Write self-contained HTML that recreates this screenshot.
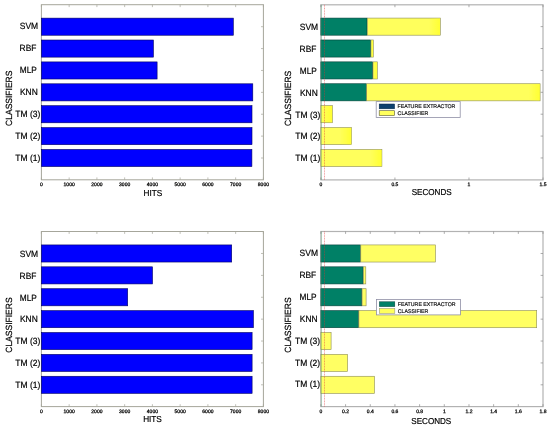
<!DOCTYPE html>
<html lang="en"><head><meta charset="utf-8"><title>Classifier hits and timing charts</title>
<style>
html,body{margin:0;padding:0;background:#fff;}
body{width:550px;height:428px;overflow:hidden;}
svg{display:block;font-family:"Liberation Sans", Arial, sans-serif;text-rendering:geometricPrecision;}
</style></head>
<body>
<svg width="550" height="428" viewBox="0 0 550 428">
<defs><filter id="soft" x="0" y="0" width="550" height="428" filterUnits="userSpaceOnUse"><feGaussianBlur stdDeviation="0.32"/></filter><linearGradient id="yg" x1="0" y1="0" x2="1" y2="0"><stop offset="0" stop-color="#ffff20" stop-opacity="0"/><stop offset="1" stop-color="#ffff20" stop-opacity="0.7"/></linearGradient></defs>
<rect width="550" height="428" fill="#ffffff"/>
<g filter="url(#soft)">
<rect x="41.40" y="4.70" width="222.00" height="175.10" fill="none" stroke="#a6a69b" stroke-width="1.0"/>
<path d="M41.40 179.80v-2.4M41.40 4.70v2.4" stroke="#a6a69b" stroke-width="0.7" fill="none"/>
<path d="M69.15 179.80v-2.4M69.15 4.70v2.4" stroke="#a6a69b" stroke-width="0.7" fill="none"/>
<path d="M96.90 179.80v-2.4M96.90 4.70v2.4" stroke="#a6a69b" stroke-width="0.7" fill="none"/>
<path d="M124.65 179.80v-2.4M124.65 4.70v2.4" stroke="#a6a69b" stroke-width="0.7" fill="none"/>
<path d="M152.40 179.80v-2.4M152.40 4.70v2.4" stroke="#a6a69b" stroke-width="0.7" fill="none"/>
<path d="M180.15 179.80v-2.4M180.15 4.70v2.4" stroke="#a6a69b" stroke-width="0.7" fill="none"/>
<path d="M207.90 179.80v-2.4M207.90 4.70v2.4" stroke="#a6a69b" stroke-width="0.7" fill="none"/>
<path d="M235.65 179.80v-2.4M235.65 4.70v2.4" stroke="#a6a69b" stroke-width="0.7" fill="none"/>
<path d="M263.40 179.80v-2.4M263.40 4.70v2.4" stroke="#a6a69b" stroke-width="0.7" fill="none"/>
<path d="M41.40 26.69h2.4M263.40 26.69h-2.4" stroke="#a6a69b" stroke-width="0.7" fill="none"/>
<path d="M41.40 48.58h2.4M263.40 48.58h-2.4" stroke="#a6a69b" stroke-width="0.7" fill="none"/>
<path d="M41.40 70.46h2.4M263.40 70.46h-2.4" stroke="#a6a69b" stroke-width="0.7" fill="none"/>
<path d="M41.40 92.35h2.4M263.40 92.35h-2.4" stroke="#a6a69b" stroke-width="0.7" fill="none"/>
<path d="M41.40 114.24h2.4M263.40 114.24h-2.4" stroke="#a6a69b" stroke-width="0.7" fill="none"/>
<path d="M41.40 136.12h2.4M263.40 136.12h-2.4" stroke="#a6a69b" stroke-width="0.7" fill="none"/>
<path d="M41.40 158.01h2.4M263.40 158.01h-2.4" stroke="#a6a69b" stroke-width="0.7" fill="none"/>
<text x="41.40" y="186.20" font-size="5.0" text-anchor="middle" fill="#000" stroke="#000" stroke-width="0.25">0</text>
<text x="69.15" y="186.20" font-size="5.0" text-anchor="middle" fill="#000" stroke="#000" stroke-width="0.25">1000</text>
<text x="96.90" y="186.20" font-size="5.0" text-anchor="middle" fill="#000" stroke="#000" stroke-width="0.25">2000</text>
<text x="124.65" y="186.20" font-size="5.0" text-anchor="middle" fill="#000" stroke="#000" stroke-width="0.25">3000</text>
<text x="152.40" y="186.20" font-size="5.0" text-anchor="middle" fill="#000" stroke="#000" stroke-width="0.25">4000</text>
<text x="180.15" y="186.20" font-size="5.0" text-anchor="middle" fill="#000" stroke="#000" stroke-width="0.25">5000</text>
<text x="207.90" y="186.20" font-size="5.0" text-anchor="middle" fill="#000" stroke="#000" stroke-width="0.25">6000</text>
<text x="235.65" y="186.20" font-size="5.0" text-anchor="middle" fill="#000" stroke="#000" stroke-width="0.25">7000</text>
<text x="263.40" y="186.20" font-size="5.0" text-anchor="middle" fill="#000" stroke="#000" stroke-width="0.25">8000</text>
<text x="152.90" y="196.40" font-size="8.6" text-anchor="middle" fill="#000" textLength="18.70" lengthAdjust="spacingAndGlyphs" stroke="#000" stroke-width="0.19">HITS</text>
<text x="11.60" y="98.25" font-size="9.0" text-anchor="middle" fill="#000" textLength="55.30" lengthAdjust="spacingAndGlyphs" transform="rotate(-90 11.60 98.25)" stroke="#000" stroke-width="0.20">CLASSIFIERS</text>
<rect x="41.40" y="18.13" width="191.90" height="17.11" fill="#0000ff" stroke="#000060" stroke-width="0.6"/>
<rect x="41.40" y="40.02" width="112.00" height="17.11" fill="#0000ff" stroke="#000060" stroke-width="0.6"/>
<rect x="41.40" y="61.91" width="115.70" height="17.11" fill="#0000ff" stroke="#000060" stroke-width="0.6"/>
<rect x="41.40" y="83.80" width="211.40" height="17.11" fill="#0000ff" stroke="#000060" stroke-width="0.6"/>
<rect x="41.40" y="105.68" width="210.60" height="17.11" fill="#0000ff" stroke="#000060" stroke-width="0.6"/>
<rect x="41.40" y="127.57" width="210.60" height="17.11" fill="#0000ff" stroke="#000060" stroke-width="0.6"/>
<rect x="41.40" y="149.46" width="210.50" height="17.11" fill="#0000ff" stroke="#000060" stroke-width="0.6"/>
<text x="19.80" y="29.29" font-size="9.0" text-anchor="start" fill="#000" textLength="18.40" lengthAdjust="spacingAndGlyphs" stroke="#000" stroke-width="0.20">SVM</text>
<text x="19.60" y="51.18" font-size="9.0" text-anchor="start" fill="#000" textLength="16.80" lengthAdjust="spacingAndGlyphs" stroke="#000" stroke-width="0.20">RBF</text>
<text x="19.80" y="73.06" font-size="9.0" text-anchor="start" fill="#000" textLength="17.00" lengthAdjust="spacingAndGlyphs" stroke="#000" stroke-width="0.20">MLP</text>
<text x="20.00" y="94.95" font-size="9.0" text-anchor="start" fill="#000" textLength="17.80" lengthAdjust="spacingAndGlyphs" stroke="#000" stroke-width="0.20">KNN</text>
<text x="15.30" y="116.84" font-size="9.0" text-anchor="start" fill="#000" textLength="25.00" lengthAdjust="spacingAndGlyphs" stroke="#000" stroke-width="0.20">TM (3)</text>
<text x="15.30" y="138.72" font-size="9.0" text-anchor="start" fill="#000" textLength="25.00" lengthAdjust="spacingAndGlyphs" stroke="#000" stroke-width="0.20">TM (2)</text>
<text x="15.30" y="160.61" font-size="9.0" text-anchor="start" fill="#000" textLength="25.00" lengthAdjust="spacingAndGlyphs" stroke="#000" stroke-width="0.20">TM (1)</text>
<rect x="320.90" y="4.80" width="222.10" height="175.10" fill="none" stroke="#b2b2b2" stroke-width="1.2"/>
<path d="M320.90 179.90v-2.4M320.90 4.80v2.4" stroke="#8a8a8a" stroke-width="0.7" fill="none"/>
<path d="M394.93 179.90v-2.4M394.93 4.80v2.4" stroke="#8a8a8a" stroke-width="0.7" fill="none"/>
<path d="M468.97 179.90v-2.4M468.97 4.80v2.4" stroke="#8a8a8a" stroke-width="0.7" fill="none"/>
<path d="M543.00 179.90v-2.4M543.00 4.80v2.4" stroke="#8a8a8a" stroke-width="0.7" fill="none"/>
<path d="M320.90 26.64h2.4M543.00 26.64h-2.4" stroke="#8a8a8a" stroke-width="0.7" fill="none"/>
<path d="M320.90 48.52h2.4M543.00 48.52h-2.4" stroke="#8a8a8a" stroke-width="0.7" fill="none"/>
<path d="M320.90 70.41h2.4M543.00 70.41h-2.4" stroke="#8a8a8a" stroke-width="0.7" fill="none"/>
<path d="M320.90 92.30h2.4M543.00 92.30h-2.4" stroke="#8a8a8a" stroke-width="0.7" fill="none"/>
<path d="M320.90 114.19h2.4M543.00 114.19h-2.4" stroke="#8a8a8a" stroke-width="0.7" fill="none"/>
<path d="M320.90 136.07h2.4M543.00 136.07h-2.4" stroke="#8a8a8a" stroke-width="0.7" fill="none"/>
<path d="M320.90 157.96h2.4M543.00 157.96h-2.4" stroke="#8a8a8a" stroke-width="0.7" fill="none"/>
<text x="320.90" y="186.30" font-size="5.0" text-anchor="middle" fill="#000" stroke="#000" stroke-width="0.25">0</text>
<text x="394.93" y="186.30" font-size="5.0" text-anchor="middle" fill="#000" stroke="#000" stroke-width="0.25">0.5</text>
<text x="468.97" y="186.30" font-size="5.0" text-anchor="middle" fill="#000" stroke="#000" stroke-width="0.25">1</text>
<text x="543.00" y="186.30" font-size="5.0" text-anchor="middle" fill="#000" stroke="#000" stroke-width="0.25">1.5</text>
<text x="431.65" y="195.10" font-size="8.6" text-anchor="middle" fill="#000" textLength="40.00" lengthAdjust="spacingAndGlyphs" stroke="#000" stroke-width="0.19">SECONDS</text>
<text x="291.00" y="98.35" font-size="9.0" text-anchor="middle" fill="#000" textLength="55.30" lengthAdjust="spacingAndGlyphs" transform="rotate(-90 291.00 98.35)" stroke="#000" stroke-width="0.20">CLASSIFIERS</text>
<rect x="320.90" y="18.08" width="46.10" height="17.11" fill="#008066" stroke="#00403a" stroke-width="0.6"/>
<rect x="367.30" y="18.08" width="73.00" height="17.11" fill="#ffff5c" stroke="#8c8c55" stroke-width="0.6"/>
<rect x="429.00" y="18.48" width="11.00" height="16.31" fill="url(#yg)"/>
<rect x="320.90" y="39.97" width="49.80" height="17.11" fill="#008066" stroke="#00403a" stroke-width="0.6"/>
<rect x="371.00" y="39.97" width="2.30" height="17.11" fill="#ffff5c" stroke="#8c8c55" stroke-width="0.6"/>
<rect x="371.00" y="40.37" width="2.00" height="16.31" fill="url(#yg)"/>
<rect x="320.90" y="61.86" width="51.80" height="17.11" fill="#008066" stroke="#00403a" stroke-width="0.6"/>
<rect x="373.00" y="61.86" width="4.30" height="17.11" fill="#ffff5c" stroke="#8c8c55" stroke-width="0.6"/>
<rect x="373.00" y="62.26" width="4.00" height="16.31" fill="url(#yg)"/>
<rect x="320.90" y="83.74" width="45.50" height="17.11" fill="#008066" stroke="#00403a" stroke-width="0.6"/>
<rect x="366.70" y="83.74" width="173.40" height="17.11" fill="#ffff5c" stroke="#8c8c55" stroke-width="0.6"/>
<rect x="528.80" y="84.14" width="11.00" height="16.31" fill="url(#yg)"/>
<rect x="320.90" y="105.63" width="11.50" height="17.11" fill="#ffff5c" stroke="#8c8c55" stroke-width="0.6"/>
<rect x="321.10" y="106.03" width="11.00" height="16.31" fill="url(#yg)"/>
<rect x="320.90" y="127.52" width="30.60" height="17.11" fill="#ffff5c" stroke="#8c8c55" stroke-width="0.6"/>
<rect x="340.20" y="127.92" width="11.00" height="16.31" fill="url(#yg)"/>
<rect x="320.90" y="149.41" width="61.00" height="17.11" fill="#ffff5c" stroke="#8c8c55" stroke-width="0.6"/>
<rect x="370.60" y="149.81" width="11.00" height="16.31" fill="url(#yg)"/>
<path d="M321.30 4.80V179.90" stroke="#3fa06a" stroke-width="0.6" opacity="0.6"/>
<path d="M324.50 4.80V179.90" stroke="#e03030" stroke-width="0.9" stroke-dasharray="1 0.6" opacity="0.5"/>
<rect x="376.20" y="101.60" width="84.00" height="15.80" fill="#fff" stroke="#8f8fa6" stroke-width="0.8"/>
<rect x="379.20" y="104.00" width="15.4" height="4.8" fill="#0c3f6e" stroke="#0a2848" stroke-width="0.5"/>
<rect x="379.20" y="110.70" width="15.4" height="4.9" fill="#ffff5c" stroke="#55553a" stroke-width="0.6"/>
<text x="397.60" y="108.20" font-size="5.3" text-anchor="start" fill="#111" textLength="57.80" lengthAdjust="spacingAndGlyphs" stroke="#111" stroke-width="0.16">FEATURE EXTRACTOR</text>
<text x="397.60" y="114.90" font-size="5.3" text-anchor="start" fill="#111" textLength="30.60" lengthAdjust="spacingAndGlyphs" stroke="#111" stroke-width="0.16">CLASSIFIER</text>
<text x="299.80" y="30.04" font-size="9.0" text-anchor="start" fill="#000" textLength="18.40" lengthAdjust="spacingAndGlyphs" stroke="#000" stroke-width="0.20">SVM</text>
<text x="299.60" y="51.92" font-size="9.0" text-anchor="start" fill="#000" textLength="16.80" lengthAdjust="spacingAndGlyphs" stroke="#000" stroke-width="0.20">RBF</text>
<text x="299.80" y="73.81" font-size="9.0" text-anchor="start" fill="#000" textLength="17.00" lengthAdjust="spacingAndGlyphs" stroke="#000" stroke-width="0.20">MLP</text>
<text x="300.00" y="95.70" font-size="9.0" text-anchor="start" fill="#000" textLength="17.80" lengthAdjust="spacingAndGlyphs" stroke="#000" stroke-width="0.20">KNN</text>
<text x="295.30" y="117.59" font-size="9.0" text-anchor="start" fill="#000" textLength="25.00" lengthAdjust="spacingAndGlyphs" stroke="#000" stroke-width="0.20">TM (3)</text>
<text x="295.30" y="139.47" font-size="9.0" text-anchor="start" fill="#000" textLength="25.00" lengthAdjust="spacingAndGlyphs" stroke="#000" stroke-width="0.20">TM (2)</text>
<text x="295.30" y="161.36" font-size="9.0" text-anchor="start" fill="#000" textLength="25.00" lengthAdjust="spacingAndGlyphs" stroke="#000" stroke-width="0.20">TM (1)</text>
<rect x="41.40" y="231.50" width="222.00" height="175.10" fill="none" stroke="#a6a69b" stroke-width="1.0"/>
<path d="M41.40 406.60v-2.4M41.40 231.50v2.4" stroke="#a6a69b" stroke-width="0.7" fill="none"/>
<path d="M69.15 406.60v-2.4M69.15 231.50v2.4" stroke="#a6a69b" stroke-width="0.7" fill="none"/>
<path d="M96.90 406.60v-2.4M96.90 231.50v2.4" stroke="#a6a69b" stroke-width="0.7" fill="none"/>
<path d="M124.65 406.60v-2.4M124.65 231.50v2.4" stroke="#a6a69b" stroke-width="0.7" fill="none"/>
<path d="M152.40 406.60v-2.4M152.40 231.50v2.4" stroke="#a6a69b" stroke-width="0.7" fill="none"/>
<path d="M180.15 406.60v-2.4M180.15 231.50v2.4" stroke="#a6a69b" stroke-width="0.7" fill="none"/>
<path d="M207.90 406.60v-2.4M207.90 231.50v2.4" stroke="#a6a69b" stroke-width="0.7" fill="none"/>
<path d="M235.65 406.60v-2.4M235.65 231.50v2.4" stroke="#a6a69b" stroke-width="0.7" fill="none"/>
<path d="M263.40 406.60v-2.4M263.40 231.50v2.4" stroke="#a6a69b" stroke-width="0.7" fill="none"/>
<path d="M41.40 253.49h2.4M263.40 253.49h-2.4" stroke="#a6a69b" stroke-width="0.7" fill="none"/>
<path d="M41.40 275.38h2.4M263.40 275.38h-2.4" stroke="#a6a69b" stroke-width="0.7" fill="none"/>
<path d="M41.40 297.26h2.4M263.40 297.26h-2.4" stroke="#a6a69b" stroke-width="0.7" fill="none"/>
<path d="M41.40 319.15h2.4M263.40 319.15h-2.4" stroke="#a6a69b" stroke-width="0.7" fill="none"/>
<path d="M41.40 341.04h2.4M263.40 341.04h-2.4" stroke="#a6a69b" stroke-width="0.7" fill="none"/>
<path d="M41.40 362.93h2.4M263.40 362.93h-2.4" stroke="#a6a69b" stroke-width="0.7" fill="none"/>
<path d="M41.40 384.81h2.4M263.40 384.81h-2.4" stroke="#a6a69b" stroke-width="0.7" fill="none"/>
<text x="41.40" y="413.00" font-size="5.0" text-anchor="middle" fill="#000" stroke="#000" stroke-width="0.25">0</text>
<text x="69.15" y="413.00" font-size="5.0" text-anchor="middle" fill="#000" stroke="#000" stroke-width="0.25">1000</text>
<text x="96.90" y="413.00" font-size="5.0" text-anchor="middle" fill="#000" stroke="#000" stroke-width="0.25">2000</text>
<text x="124.65" y="413.00" font-size="5.0" text-anchor="middle" fill="#000" stroke="#000" stroke-width="0.25">3000</text>
<text x="152.40" y="413.00" font-size="5.0" text-anchor="middle" fill="#000" stroke="#000" stroke-width="0.25">4000</text>
<text x="180.15" y="413.00" font-size="5.0" text-anchor="middle" fill="#000" stroke="#000" stroke-width="0.25">5000</text>
<text x="207.90" y="413.00" font-size="5.0" text-anchor="middle" fill="#000" stroke="#000" stroke-width="0.25">6000</text>
<text x="235.65" y="413.00" font-size="5.0" text-anchor="middle" fill="#000" stroke="#000" stroke-width="0.25">7000</text>
<text x="263.40" y="413.00" font-size="5.0" text-anchor="middle" fill="#000" stroke="#000" stroke-width="0.25">8000</text>
<text x="152.50" y="421.90" font-size="8.6" text-anchor="middle" fill="#000" textLength="18.70" lengthAdjust="spacingAndGlyphs" stroke="#000" stroke-width="0.19">HITS</text>
<text x="11.60" y="325.05" font-size="9.0" text-anchor="middle" fill="#000" textLength="55.30" lengthAdjust="spacingAndGlyphs" transform="rotate(-90 11.60 325.05)" stroke="#000" stroke-width="0.20">CLASSIFIERS</text>
<rect x="41.40" y="244.93" width="190.30" height="17.11" fill="#0000ff" stroke="#000060" stroke-width="0.6"/>
<rect x="41.40" y="266.82" width="111.10" height="17.11" fill="#0000ff" stroke="#000060" stroke-width="0.6"/>
<rect x="41.40" y="288.71" width="86.30" height="17.11" fill="#0000ff" stroke="#000060" stroke-width="0.6"/>
<rect x="41.40" y="310.60" width="212.00" height="17.11" fill="#0000ff" stroke="#000060" stroke-width="0.6"/>
<rect x="41.40" y="332.48" width="210.70" height="17.11" fill="#0000ff" stroke="#000060" stroke-width="0.6"/>
<rect x="41.40" y="354.37" width="210.70" height="17.11" fill="#0000ff" stroke="#000060" stroke-width="0.6"/>
<rect x="41.40" y="376.26" width="210.70" height="17.11" fill="#0000ff" stroke="#000060" stroke-width="0.6"/>
<text x="19.80" y="256.79" font-size="9.0" text-anchor="start" fill="#000" textLength="18.40" lengthAdjust="spacingAndGlyphs" stroke="#000" stroke-width="0.20">SVM</text>
<text x="19.60" y="278.68" font-size="9.0" text-anchor="start" fill="#000" textLength="16.80" lengthAdjust="spacingAndGlyphs" stroke="#000" stroke-width="0.20">RBF</text>
<text x="19.80" y="300.56" font-size="9.0" text-anchor="start" fill="#000" textLength="17.00" lengthAdjust="spacingAndGlyphs" stroke="#000" stroke-width="0.20">MLP</text>
<text x="20.00" y="322.45" font-size="9.0" text-anchor="start" fill="#000" textLength="17.80" lengthAdjust="spacingAndGlyphs" stroke="#000" stroke-width="0.20">KNN</text>
<text x="15.30" y="344.34" font-size="9.0" text-anchor="start" fill="#000" textLength="25.00" lengthAdjust="spacingAndGlyphs" stroke="#000" stroke-width="0.20">TM (3)</text>
<text x="15.30" y="366.23" font-size="9.0" text-anchor="start" fill="#000" textLength="25.00" lengthAdjust="spacingAndGlyphs" stroke="#000" stroke-width="0.20">TM (2)</text>
<text x="15.30" y="388.11" font-size="9.0" text-anchor="start" fill="#000" textLength="25.00" lengthAdjust="spacingAndGlyphs" stroke="#000" stroke-width="0.20">TM (1)</text>
<rect x="320.90" y="231.50" width="222.10" height="175.10" fill="none" stroke="#b2b2b2" stroke-width="1.2"/>
<path d="M320.90 406.60v-2.4M320.90 231.50v2.4" stroke="#8a8a8a" stroke-width="0.7" fill="none"/>
<path d="M345.58 406.60v-2.4M345.58 231.50v2.4" stroke="#8a8a8a" stroke-width="0.7" fill="none"/>
<path d="M370.26 406.60v-2.4M370.26 231.50v2.4" stroke="#8a8a8a" stroke-width="0.7" fill="none"/>
<path d="M394.93 406.60v-2.4M394.93 231.50v2.4" stroke="#8a8a8a" stroke-width="0.7" fill="none"/>
<path d="M419.61 406.60v-2.4M419.61 231.50v2.4" stroke="#8a8a8a" stroke-width="0.7" fill="none"/>
<path d="M444.29 406.60v-2.4M444.29 231.50v2.4" stroke="#8a8a8a" stroke-width="0.7" fill="none"/>
<path d="M468.97 406.60v-2.4M468.97 231.50v2.4" stroke="#8a8a8a" stroke-width="0.7" fill="none"/>
<path d="M493.64 406.60v-2.4M493.64 231.50v2.4" stroke="#8a8a8a" stroke-width="0.7" fill="none"/>
<path d="M518.32 406.60v-2.4M518.32 231.50v2.4" stroke="#8a8a8a" stroke-width="0.7" fill="none"/>
<path d="M543.00 406.60v-2.4M543.00 231.50v2.4" stroke="#8a8a8a" stroke-width="0.7" fill="none"/>
<path d="M320.90 253.49h2.4M543.00 253.49h-2.4" stroke="#8a8a8a" stroke-width="0.7" fill="none"/>
<path d="M320.90 275.38h2.4M543.00 275.38h-2.4" stroke="#8a8a8a" stroke-width="0.7" fill="none"/>
<path d="M320.90 297.26h2.4M543.00 297.26h-2.4" stroke="#8a8a8a" stroke-width="0.7" fill="none"/>
<path d="M320.90 319.15h2.4M543.00 319.15h-2.4" stroke="#8a8a8a" stroke-width="0.7" fill="none"/>
<path d="M320.90 341.04h2.4M543.00 341.04h-2.4" stroke="#8a8a8a" stroke-width="0.7" fill="none"/>
<path d="M320.90 362.93h2.4M543.00 362.93h-2.4" stroke="#8a8a8a" stroke-width="0.7" fill="none"/>
<path d="M320.90 384.81h2.4M543.00 384.81h-2.4" stroke="#8a8a8a" stroke-width="0.7" fill="none"/>
<text x="320.90" y="413.00" font-size="5.0" text-anchor="middle" fill="#000" stroke="#000" stroke-width="0.25">0</text>
<text x="345.58" y="413.00" font-size="5.0" text-anchor="middle" fill="#000" stroke="#000" stroke-width="0.25">0.2</text>
<text x="370.26" y="413.00" font-size="5.0" text-anchor="middle" fill="#000" stroke="#000" stroke-width="0.25">0.4</text>
<text x="394.93" y="413.00" font-size="5.0" text-anchor="middle" fill="#000" stroke="#000" stroke-width="0.25">0.6</text>
<text x="419.61" y="413.00" font-size="5.0" text-anchor="middle" fill="#000" stroke="#000" stroke-width="0.25">0.8</text>
<text x="444.29" y="413.00" font-size="5.0" text-anchor="middle" fill="#000" stroke="#000" stroke-width="0.25">1</text>
<text x="468.97" y="413.00" font-size="5.0" text-anchor="middle" fill="#000" stroke="#000" stroke-width="0.25">1.2</text>
<text x="493.64" y="413.00" font-size="5.0" text-anchor="middle" fill="#000" stroke="#000" stroke-width="0.25">1.4</text>
<text x="518.32" y="413.00" font-size="5.0" text-anchor="middle" fill="#000" stroke="#000" stroke-width="0.25">1.6</text>
<text x="543.00" y="413.00" font-size="5.0" text-anchor="middle" fill="#000" stroke="#000" stroke-width="0.25">1.8</text>
<text x="431.25" y="423.70" font-size="8.6" text-anchor="middle" fill="#000" textLength="40.00" lengthAdjust="spacingAndGlyphs" stroke="#000" stroke-width="0.19">SECONDS</text>
<text x="291.00" y="325.05" font-size="9.0" text-anchor="middle" fill="#000" textLength="55.30" lengthAdjust="spacingAndGlyphs" transform="rotate(-90 291.00 325.05)" stroke="#000" stroke-width="0.20">CLASSIFIERS</text>
<rect x="320.90" y="244.93" width="39.60" height="17.11" fill="#008066" stroke="#00403a" stroke-width="0.6"/>
<rect x="360.80" y="244.93" width="74.70" height="17.11" fill="#ffff64" stroke="#8c8c55" stroke-width="0.6"/>
<rect x="320.90" y="266.82" width="42.20" height="17.11" fill="#008066" stroke="#00403a" stroke-width="0.6"/>
<rect x="363.40" y="266.82" width="2.40" height="17.11" fill="#ffff64" stroke="#8c8c55" stroke-width="0.6"/>
<rect x="320.90" y="288.71" width="40.90" height="17.11" fill="#008066" stroke="#00403a" stroke-width="0.6"/>
<rect x="362.10" y="288.71" width="4.00" height="17.11" fill="#ffff64" stroke="#8c8c55" stroke-width="0.6"/>
<rect x="320.90" y="310.60" width="37.70" height="17.11" fill="#008066" stroke="#00403a" stroke-width="0.6"/>
<rect x="358.90" y="310.60" width="177.80" height="17.11" fill="#ffff64" stroke="#8c8c55" stroke-width="0.6"/>
<rect x="320.90" y="332.48" width="10.20" height="17.11" fill="#ffff64" stroke="#8c8c55" stroke-width="0.6"/>
<rect x="320.90" y="354.37" width="26.70" height="17.11" fill="#ffff64" stroke="#8c8c55" stroke-width="0.6"/>
<rect x="320.90" y="376.26" width="53.60" height="17.11" fill="#ffff64" stroke="#8c8c55" stroke-width="0.6"/>
<path d="M321.30 231.50V406.60" stroke="#3fa06a" stroke-width="0.6" opacity="0.6"/>
<path d="M324.50 231.50V406.60" stroke="#e03030" stroke-width="0.9" stroke-dasharray="1 0.6" opacity="0.5"/>
<rect x="376.40" y="299.40" width="84.00" height="15.50" fill="#fff" stroke="#8f8fa6" stroke-width="0.8"/>
<rect x="379.40" y="301.80" width="15.4" height="4.8" fill="#008066" stroke="#00403a" stroke-width="0.5"/>
<rect x="379.40" y="308.50" width="15.4" height="4.9" fill="#ffff5c" stroke="#9c9c78" stroke-width="0.6"/>
<text x="397.80" y="306.00" font-size="5.3" text-anchor="start" fill="#111" textLength="57.80" lengthAdjust="spacingAndGlyphs" stroke="#111" stroke-width="0.16">FEATURE EXTRACTOR</text>
<text x="397.80" y="312.70" font-size="5.3" text-anchor="start" fill="#111" textLength="30.60" lengthAdjust="spacingAndGlyphs" stroke="#111" stroke-width="0.16">CLASSIFIER</text>
<text x="299.60" y="256.09" font-size="9.0" text-anchor="start" fill="#000" textLength="18.40" lengthAdjust="spacingAndGlyphs" stroke="#000" stroke-width="0.20">SVM</text>
<text x="299.40" y="277.98" font-size="9.0" text-anchor="start" fill="#000" textLength="16.80" lengthAdjust="spacingAndGlyphs" stroke="#000" stroke-width="0.20">RBF</text>
<text x="299.60" y="299.86" font-size="9.0" text-anchor="start" fill="#000" textLength="17.00" lengthAdjust="spacingAndGlyphs" stroke="#000" stroke-width="0.20">MLP</text>
<text x="299.80" y="321.75" font-size="9.0" text-anchor="start" fill="#000" textLength="17.80" lengthAdjust="spacingAndGlyphs" stroke="#000" stroke-width="0.20">KNN</text>
<text x="295.10" y="343.64" font-size="9.0" text-anchor="start" fill="#000" textLength="25.00" lengthAdjust="spacingAndGlyphs" stroke="#000" stroke-width="0.20">TM (3)</text>
<text x="295.10" y="365.53" font-size="9.0" text-anchor="start" fill="#000" textLength="25.00" lengthAdjust="spacingAndGlyphs" stroke="#000" stroke-width="0.20">TM (2)</text>
<text x="295.10" y="387.41" font-size="9.0" text-anchor="start" fill="#000" textLength="25.00" lengthAdjust="spacingAndGlyphs" stroke="#000" stroke-width="0.20">TM (1)</text>
</g>
</svg>
</body></html>
